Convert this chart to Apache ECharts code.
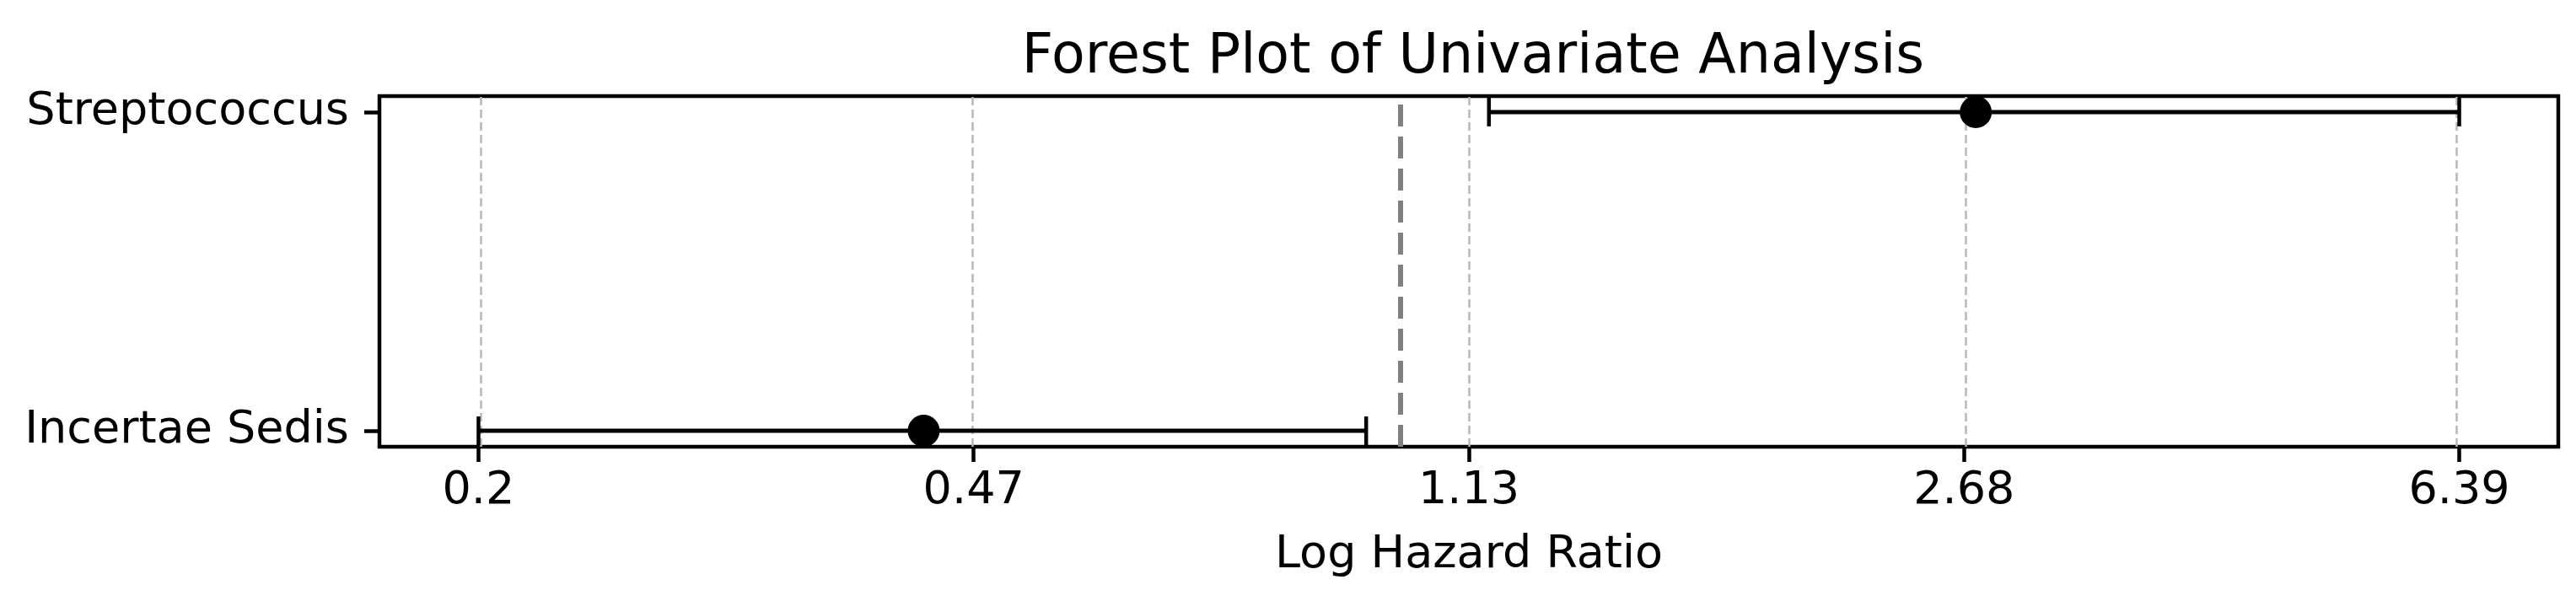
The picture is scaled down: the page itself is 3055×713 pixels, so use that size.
<!DOCTYPE html>
<html>
<head>
<meta charset="utf-8">
<script src="https://cdn.jsdelivr.net/npm/echarts@6/dist/echarts.min.js"></script>
<style>
  html, body { margin: 0; padding: 0; background: #ffffff; }
  #chart { width: 3055px; height: 713px; }
</style>
</head>
<body>
<div id="chart"></div>
<script>
// ---- data ----
const categories = ['Incertae Sedis', 'Streptococcus'];
const hazardRatio = [0.434, 2.74];
const ciLower = [0.199, 1.168];
const ciUpper = [0.942, 6.39];
const tickLabels = ['0.2', '0.47', '1.13', '2.68', '6.39'];
const referenceHR = 1;
const titleText = 'Forest Plot of Univariate Analysis';
const xAxisTitle = 'Log Hazard Ratio';

// ---- derived: axis works in ln(HR) ----
const lnLow = Math.log(Math.min(...ciLower));
const lnHigh = Math.log(Math.max(...ciUpper));
const span = lnHigh - lnLow;
const xMin = lnLow - 0.05 * span;
const xMax = lnHigh + 0.05 * span;
const tickValues = tickLabels.map((_, i) => lnLow + i * span / (tickLabels.length - 1));
const rowIndex = categories.map((_, i) => i);

const ciData = categories.map((c, i) => [Math.log(ciLower[i]), Math.log(ciUpper[i]), i]);
const pointData = categories.map((c, i) => [Math.log(hazardRatio[i]), i]);

const FONT = 'DejaVu Sans';

function labelFor(v) {
  let best = 0, bd = Infinity;
  tickValues.forEach((t, i) => { const d = Math.abs(t - v); if (d < bd) { bd = d; best = i; } });
  return tickLabels[best];
}

const chart = echarts.init(document.getElementById('chart'), null, { renderer: 'canvas' });

const gridLines = tickValues.map(v => ({
  xAxis: v,
  lineStyle: { color: '#b8b8b8', width: 2.5, type: [10, 5] }
}));
gridLines.push({
  xAxis: Math.log(referenceHR),
  lineStyle: { color: '#808080', width: 6, type: [26, 12] }
});

chart.setOption({
  animation: false,
  backgroundColor: '#ffffff',
  title: {
    text: titleText,
    left: 1742,
    top: 32,
    textAlign: 'center',
    textStyle: { fontFamily: FONT, fontSize: 65, fontWeight: 'normal', color: '#000000' }
  },
  grid: {
    left: 450, right: 21, top: 114, bottom: 183,
    show: true, borderColor: '#000000', borderWidth: 4.5, backgroundColor: 'transparent'
  },
  xAxis: {
    type: 'value',
    min: xMin, max: xMax,
    name: xAxisTitle,
    nameLocation: 'middle',
    nameGap: 102,
    nameTextStyle: { fontFamily: FONT, fontSize: 54, color: '#000000' },
    axisLine: { show: false, onZero: false },
    splitLine: { show: false },
    axisTick: { show: true, inside: false, length: 18, lineStyle: { color: '#000000', width: 4.5 }, customValues: tickValues },
    axisLabel: {
      fontFamily: FONT, fontSize: 54, color: '#000000', margin: 26,
      customValues: tickValues,
      formatter: v => labelFor(v)
    }
  },
  yAxis: {
    type: 'value',
    min: -0.05, max: 1.05,
    axisLine: { show: false, onZero: false },
    splitLine: { show: false },
    axisTick: { show: true, inside: false, length: 18, lineStyle: { color: '#000000', width: 4.5 }, customValues: rowIndex },
    axisLabel: {
      fontFamily: FONT, fontSize: 54, color: '#000000', margin: 36,
      customValues: rowIndex,
      formatter: v => categories[Math.round(v)]
    }
  },
  series: [
    {
      type: 'custom',
      z: 2,
      data: ciData,
      renderItem: function (params, api) {
        const y = api.value(2);
        const p1 = api.coord([api.value(0), y]);
        const p2 = api.coord([api.value(1), y]);
        const h = 17;
        const st = { stroke: '#000000', lineWidth: 5 };
        const cap = { stroke: '#000000', lineWidth: 4.5 };
        return {
          type: 'group',
          children: [
            { type: 'line', shape: { x1: p1[0], y1: p1[1], x2: p2[0], y2: p2[1] }, style: st },
            { type: 'line', shape: { x1: p1[0], y1: p1[1] - h, x2: p1[0], y2: p1[1] + h }, style: cap },
            { type: 'line', shape: { x1: p2[0], y1: p2[1] - h, x2: p2[0], y2: p2[1] + h }, style: cap }
          ]
        };
      },
      markLine: {
        silent: true,
        z: 1,
        symbol: ['none', 'none'],
        label: { show: false },
        data: gridLines
      }
    },
    {
      type: 'scatter',
      z: 3,
      data: pointData,
      symbol: 'circle',
      symbolSize: 38,
      itemStyle: { color: '#000000', opacity: 1 }
    }
  ]
});
</script>
</body>
</html>
